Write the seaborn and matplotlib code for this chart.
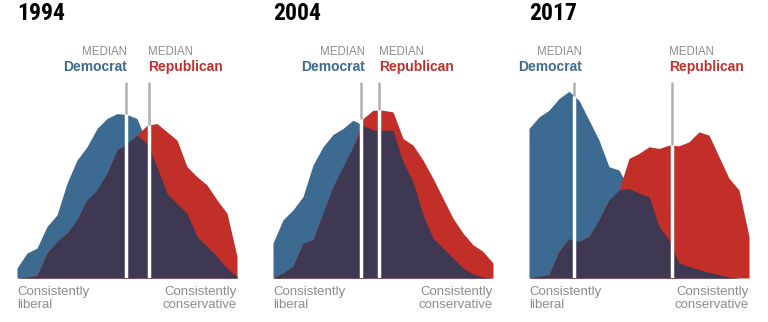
import numpy as np
import pandas as pd
import matplotlib
matplotlib.use("Agg")
import matplotlib.pyplot as plt
import seaborn as sns

sns.set_theme(style="white")
plt.rcParams['font.family'] = ['Liberation Sans', 'DejaVu Sans']

# ideology scale positions (consistently liberal -> consistently conservative)
scale = list(range(23))
years = ["1994", "2004", "2017"]

dem_1994 = [30, 75, 90, 155, 190, 285, 355, 395, 450, 480, 495, 492, 480, 405,
            335, 255, 225, 195, 125, 95, 65, 30, 5]
rep_1994 = [0, 3, 7, 75, 110, 135, 175, 235, 265, 315, 385, 405, 430, 460,
            465, 440, 415, 335, 305, 280, 235, 195, 65]

dem_2004 = [105, 175, 205, 245, 340, 395, 432, 450, 475, 460, 445, 445, 445, 350,
            290, 190, 120, 90, 60, 30, 12, 3, 0]
rep_2004 = [0, 15, 35, 105, 115, 195, 275, 335, 395, 480, 505, 505, 500, 420,
            400, 355, 300, 240, 180, 135, 100, 80, 45]

dem_2017 = [450, 485, 505, 540, 562, 535, 475, 415, 335, 325, 270, 255, 245, 155,
            115, 45, 35, 25, 17, 10, 3, 0, 0]
rep_2017 = [0, 5, 10, 80, 118, 110, 125, 175, 235, 265, 360, 375, 395, 390,
            400, 398, 410, 440, 430, 365, 300, 265, 125]

median_dem = [10.93, 8.83, 4.5]
median_rep = [13.17, 10.6, 14.33]

dem_series = [dem_1994, dem_2004, dem_2017]
rep_series = [rep_1994, rep_2004, rep_2017]

BLUE = "#3d6a91"
RED = "#c22f28"
PURPLE = "#3e3852"
GRAY_TXT = "#8c8c8c"
LINE_GRAY = "#b0b0b0"

fig = plt.figure(figsize=(7.68, 3.22), dpi=100)
W, H = 768, 322
lefts = [17, 273, 529]
pw = 220
base = 278
top = 82
# label x anchors in pixels (Dem right edge, Rep left edge)
dem_lab_px = [127, 365, 582]
rep_lab_px = [148, 379, 669]

title_family = ['DejaVu Sans Condensed', 'Liberation Sans Narrow', 'Roboto Condensed', 'DejaVu Sans']

for i in range(3):
    ax = fig.add_axes([lefts[i] / W, (H - base) / H, pw / W, (base - top) / H])
    df = pd.DataFrame({"x": scale, "dem": dem_series[i], "rep": rep_series[i]})
    overlap = np.minimum(df["dem"], df["rep"])
    ax.fill_between(df["x"], 0, df["dem"], color=BLUE, lw=0)
    ax.fill_between(df["x"], 0, df["rep"], color=RED, lw=0)
    ax.fill_between(df["x"], 0, overlap, color=PURPLE, lw=0)
    sns.lineplot(x=[-5], y=[-5], ax=ax, legend=False)
    ax.set_xlim(0, 22)
    ax.set_ylim(0, 590)
    top_curve = np.maximum(df["dem"], df["rep"])
    for m in (median_dem[i], median_rep[i]):
        h = np.interp(m, df["x"], top_curve)
        ax.plot([m, m], [h - 5, 590], color=LINE_GRAY, lw=1.8, solid_capstyle="butt")
        ax.plot([m, m], [0, h], color="white", lw=2.5, solid_capstyle="butt")
    ax.set_axis_off()

    # title
    fig.text(lefts[i] / W, 1 - 14 / H, years[i], fontsize=17, fontweight="bold",
             family=title_family, fontstretch="condensed", ha="left", va="center",
             color="black")
    # median labels
    fig.text(dem_lab_px[i] / W, 1 - 52 / H, "MEDIAN", fontsize=8.3, color=GRAY_TXT,
             ha="right", va="center")
    fig.text(dem_lab_px[i] / W, 1 - 67 / H, "Democrat", fontsize=10, color=BLUE,
             fontweight="bold", ha="right", va="center")
    fig.text(rep_lab_px[i] / W, 1 - 52 / H, "MEDIAN", fontsize=8.3, color=GRAY_TXT,
             ha="left", va="center")
    fig.text(rep_lab_px[i] / W, 1 - 67 / H, "Republican", fontsize=10, color=RED,
             fontweight="bold", ha="left", va="center")
    # axis ends
    fig.text(lefts[i] / W, 1 - 286 / H, "Consistently\nliberal", fontsize=9.5,
             color=GRAY_TXT, ha="left", va="top", linespacing=1.1)
    fig.text((lefts[i] + pw) / W, 1 - 286 / H, "Consistently\nconservative", fontsize=9.5,
             color=GRAY_TXT, ha="right", va="top", linespacing=1.1, multialignment="right")

fig.savefig("out.png", dpi=100, facecolor="white")
